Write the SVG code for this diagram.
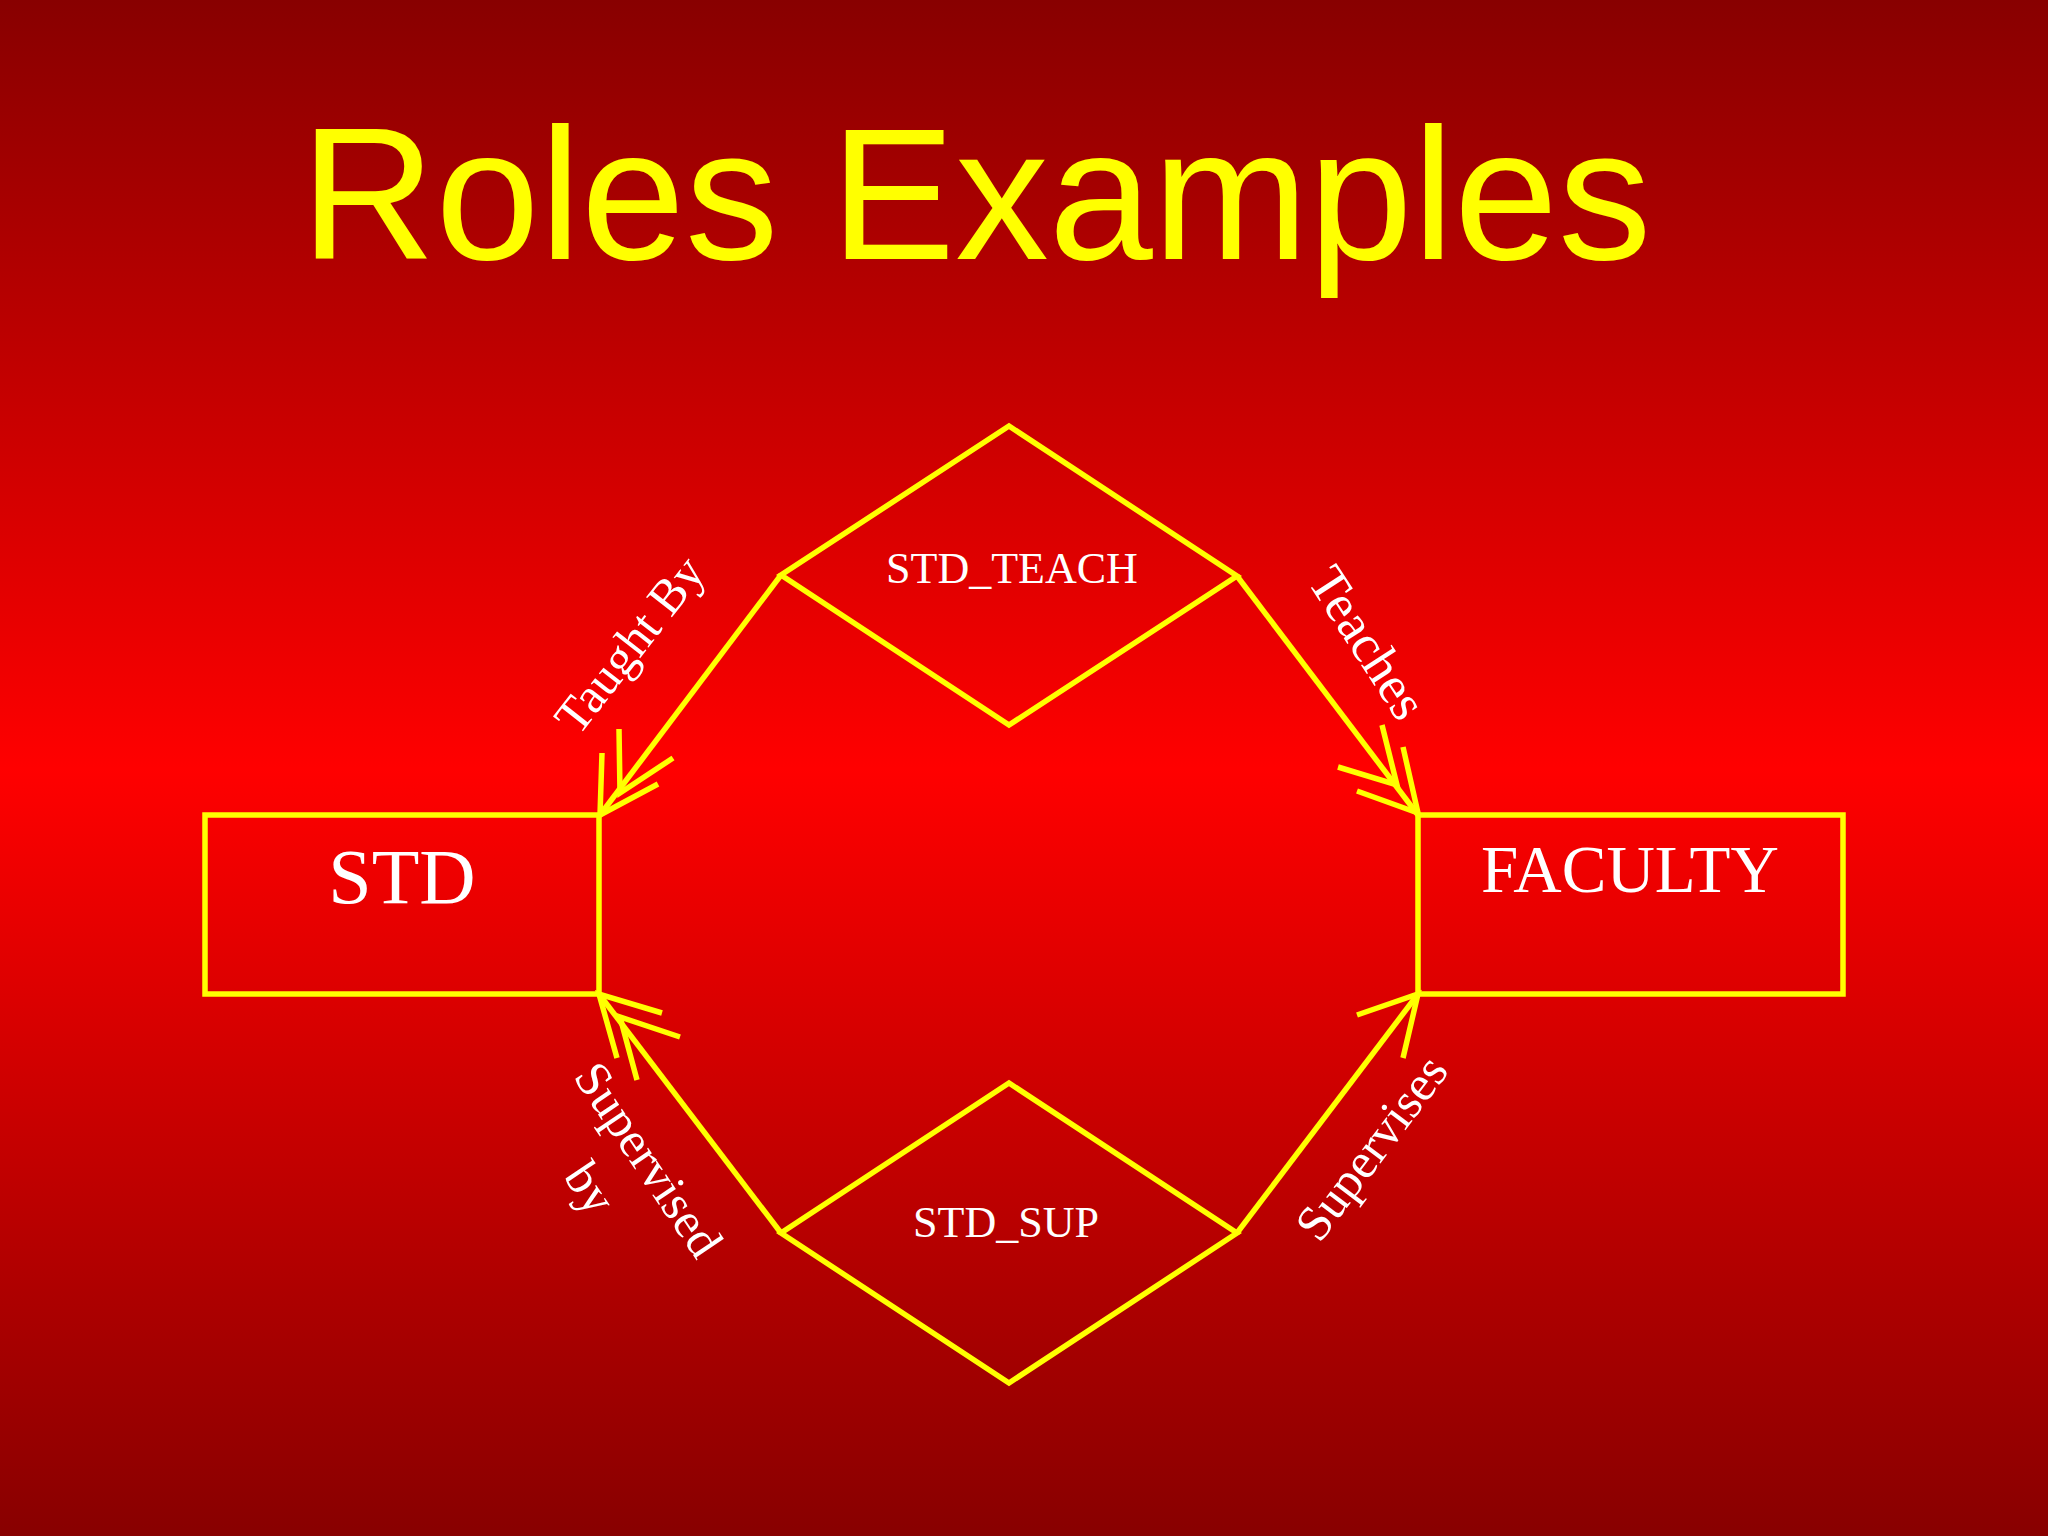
<svg xmlns="http://www.w3.org/2000/svg" width="2048" height="1536" viewBox="0 0 2048 1536">
<defs>
<linearGradient id="bg" x1="0" y1="0" x2="0" y2="1">
<stop offset="0" stop-color="#880000"/>
<stop offset="0.5" stop-color="#ff0000"/>
<stop offset="1" stop-color="#880000"/>
</linearGradient>
<style>
.shape{fill:none;stroke:#ffff00;stroke-width:5.5;stroke-linejoin:miter}
.conn{fill:none;stroke:#ffff00;stroke-width:5.5;stroke-linecap:butt}
.lbl{fill:#ffffff;font-family:"Liberation Serif","Times New Roman",serif}
.title{fill:#ffff00;font-family:"Liberation Sans",Arial,sans-serif;font-size:187px}
</style>
</defs>
<rect x="0" y="0" width="2048" height="1536" fill="url(#bg)"/>
<text class="title" x="976" y="259" text-anchor="middle">Roles Examples</text>

<g id="connectors">
<g id="taught-by">
<line class="conn" x1="781" y1="575" x2="600" y2="815"/>
<polyline class="conn" points="602,753 600,815 658,784"/>
<polyline class="conn" points="619,729 620,793 673,758"/>
<text class="lbl" font-size="50" text-anchor="middle" transform="translate(630,645) rotate(-52)" y="16">Taught By</text>
</g>
<g id="teaches">
<line class="conn" x1="1237" y1="576" x2="1418" y2="815"/>
<polyline class="conn" points="1403,747 1418,813 1357,791"/>
<polyline class="conn" points="1382,725 1397,785 1338,767"/>
<text class="lbl" font-size="53" text-anchor="middle" transform="translate(1367,643) rotate(57)" y="17">Teaches</text>
</g>
<g id="supervised-by">
<line class="conn" x1="781" y1="1233" x2="599" y2="994"/>
<polyline class="conn" points="662,1013 599,994 617,1058"/>
<polyline class="conn" points="680,1037 620,1017 637,1080"/>
<text class="lbl" font-size="50" text-anchor="middle" transform="translate(648,1160) rotate(56)" y="16">Supervised<tspan x="-9" dy="64">by</tspan></text>
</g>
<g id="supervises">
<line class="conn" x1="1237" y1="1233" x2="1418" y2="994"/>
<polyline class="conn" points="1357,1015 1418,994 1403,1058"/>
<text class="lbl" font-size="50" text-anchor="middle" transform="translate(1372,1148) rotate(-53)" y="16">Supervises</text>
</g>
</g>

<g id="std">
<rect class="shape" x="205" y="815" width="394" height="179"/>
<text class="lbl" font-size="78" x="402" y="903" text-anchor="middle">STD</text>
</g>
<g id="faculty">
<rect class="shape" x="1418" y="815" width="425" height="179"/>
<text class="lbl" font-size="67" x="1630" y="892" text-anchor="middle">FACULTY</text>
</g>
<g id="std-teach">
<polygon class="shape" points="1009,426 1237,576 1009,725 781,575"/>
<text class="lbl" font-size="44" x="1012" y="583" text-anchor="middle">STD_TEACH</text>
</g>
<g id="std-sup">
<polygon class="shape" points="1009,1083 1237,1233 1009,1383 781,1233"/>
<text class="lbl" font-size="44" x="1006" y="1237" text-anchor="middle">STD_SUP</text>
</g>
</svg>
